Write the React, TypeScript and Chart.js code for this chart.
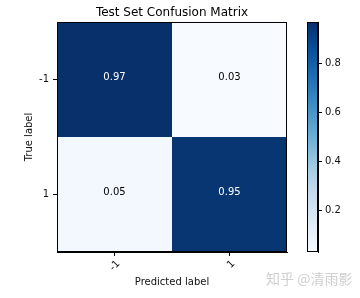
import React, { useEffect, useRef } from 'react';
import { Chart, registerables } from 'chart.js';

Chart.register(...registerables);

const TITLE = 'Test Set Confusion Matrix';
const X_TITLE = 'Predicted label';
const Y_TITLE = 'True label';
const CLASSES = ['-1', '1'];
const ROW_NEG = [0.97, 0.03];
const ROW_POS = [0.05, 0.95];
const MATRIX = [ROW_NEG, ROW_POS];
const CB_TICKS = [0.2, 0.4, 0.6, 0.8];
const CB_MIN = 0.03;
const CB_MAX = 0.97;
const WATERMARK = '知乎 @清雨影';

const BLUES = ['#f7fbff', '#deebf7', '#c6dbef', '#9ecae1', '#6baed6', '#4292c6', '#2171b5', '#08519c', '#08306b'];
const FONT = 'DejaVu Sans';
const TEXT = '#111';

function hexToRgb(h: string) {
  return [parseInt(h.slice(1, 3), 16), parseInt(h.slice(3, 5), 16), parseInt(h.slice(5, 7), 16)];
}
function blues(t: number) {
  const c = Math.max(0, Math.min(1, t));
  const p = c * (BLUES.length - 1);
  const i = Math.min(BLUES.length - 2, Math.floor(p));
  const f = p - i;
  const a = hexToRgb(BLUES[i]);
  const b = hexToRgb(BLUES[i + 1]);
  const m = a.map((v, k) => Math.round(v + (b[k] - v) * f));
  return `rgb(${m[0]},${m[1]},${m[2]})`;
}

const cellPlugin = {
  id: 'cells',
  beforeDatasetsDraw(chart: any) {
    const { ctx, chartArea } = chart;
    const xs = chart.scales.x;
    const ys = chart.scales.y;
    const thresh = Math.max(...MATRIX.flat()) / 2;
    ctx.save();
    MATRIX.forEach((row, i) => {
      row.forEach((v, j) => {
        const x0 = xs.getPixelForValue(j - 0.5);
        const x1 = xs.getPixelForValue(j + 0.5);
        const y0 = ys.getPixelForValue(i - 0.5);
        const y1 = ys.getPixelForValue(i + 0.5);
        ctx.fillStyle = blues((v - CB_MIN) / (CB_MAX - CB_MIN));
        ctx.fillRect(Math.min(x0, x1), Math.min(y0, y1), Math.abs(x1 - x0), Math.abs(y1 - y0));
        ctx.fillStyle = v > thresh ? '#ffffff' : '#000000';
        ctx.font = `10px "${FONT}"`;
        ctx.textAlign = 'center';
        ctx.textBaseline = 'middle';
        ctx.fillText(v.toFixed(2), xs.getPixelForValue(j), ys.getPixelForValue(i) - 2);
      });
    });
    ctx.strokeStyle = '#000';
    ctx.lineWidth = 1;
    ctx.strokeRect(chartArea.left + 0.5, chartArea.top + 0.5, chartArea.right - chartArea.left - 1, chartArea.bottom - chartArea.top - 1);
    ctx.restore();
  },
};

const gradientPlugin = {
  id: 'cbgrad',
  beforeDatasetsDraw(chart: any) {
    const { ctx, chartArea } = chart;
    const ys = chart.scales.y;
    const g = ctx.createLinearGradient(0, ys.getPixelForValue(CB_MIN), 0, ys.getPixelForValue(CB_MAX));
    BLUES.forEach((c, k) => g.addColorStop(k / (BLUES.length - 1), c));
    ctx.save();
    ctx.fillStyle = g;
    ctx.fillRect(chartArea.left, chartArea.top, chartArea.right - chartArea.left, chartArea.bottom - chartArea.top);
    ctx.strokeStyle = '#000';
    ctx.lineWidth = 1;
    ctx.strokeRect(chartArea.left + 0.5, chartArea.top + 0.5, chartArea.right - chartArea.left - 1, chartArea.bottom - chartArea.top - 1);
    ctx.restore();
  },
};

export default function App() {
  const mainRef = useRef<HTMLCanvasElement>(null);
  const cbRef = useRef<HTMLCanvasElement>(null);

  useEffect(() => {
    const font = { family: FONT, size: 10 };
    const main = new Chart(mainRef.current as HTMLCanvasElement, {
      type: 'scatter',
      data: { datasets: [{ data: [], pointRadius: 0 }] },
      options: {
        responsive: false,
        animation: false,
        layout: { padding: { top: 0, right: 73, bottom: 0, left: 0 } },
        plugins: {
          legend: { display: false },
          tooltip: { enabled: false },
          title: {
            display: true,
            fullSize: false,
            text: TITLE,
            color: '#000',
            font: { family: FONT, size: 12, weight: 'normal' },
            padding: { top: 6, bottom: 1.6 },
          },
        },
        scales: {
          x: {
            type: 'linear',
            min: -0.5,
            max: 1.5,
            position: 'bottom',
            afterBuildTicks: (s: any) => {
              s.ticks = CLASSES.map((_, i) => ({ value: i }));
            },
            afterFit: (s: any) => {
              s.height = 46;
            },
            ticks: {
              callback: (v: any) => CLASSES[v],
              minRotation: 45,
              maxRotation: 45,
              autoSkip: false,
              color: TEXT,
              font,
              padding: 2,
              labelOffset: 4,
            },
            grid: { drawOnChartArea: false, drawTicks: true, tickLength: 4, tickColor: '#000', color: '#000' },
            border: { display: true, color: '#000' },
            title: { display: true, text: X_TITLE, color: TEXT, font, padding: { top: 0, bottom: 10 } },
          },
          y: {
            type: 'linear',
            min: -0.5,
            max: 1.5,
            reverse: true,
            position: 'left',
            afterBuildTicks: (s: any) => {
              s.ticks = CLASSES.map((_, i) => ({ value: i }));
            },
            afterFit: (s: any) => {
              s.width = 57;
            },
            ticks: {
              callback: (v: any) => CLASSES[v],
              autoSkip: false,
              color: TEXT,
              font,
              padding: 4,
            },
            grid: { drawOnChartArea: false, drawTicks: true, tickLength: 4, tickColor: '#000', color: '#000' },
            border: { display: true, color: '#000' },
            title: { display: true, text: Y_TITLE, color: TEXT, font, padding: { top: 23, bottom: 0 } },
          },
        },
      } as any,
      plugins: [cellPlugin],
    });

    const cb = new Chart(cbRef.current as HTMLCanvasElement, {
      type: 'scatter',
      data: { datasets: [{ data: [], pointRadius: 0 }] },
      options: {
        responsive: false,
        animation: false,
        layout: { padding: { left: 17, top: 22, bottom: 46, right: 0 } },
        plugins: { legend: { display: false }, tooltip: { enabled: false } },
        scales: {
          x: { display: false, type: 'linear', min: 0, max: 1 },
          y: {
            type: 'linear',
            position: 'right',
            min: CB_MIN,
            max: CB_MAX,
            afterBuildTicks: (s: any) => {
              s.ticks = CB_TICKS.map((v) => ({ value: v }));
            },
            afterFit: (s: any) => {
              s.width = 42;
            },
            ticks: {
              callback: (v: any) => Number(v).toFixed(1),
              color: TEXT,
              font,
              padding: 3,
            },
            grid: { drawOnChartArea: false, drawTicks: true, tickLength: 4, tickColor: '#000', color: '#000' },
            border: { display: true, color: '#000' },
          },
        },
      } as any,
      plugins: [gradientPlugin],
    });

    return () => {
      main.destroy();
      cb.destroy();
    };
  }, []);

  return (
    <div style={{ position: 'fixed', left: 0, top: 0, width: 360, height: 298, background: '#fff', overflow: 'hidden' }}>
      <canvas ref={mainRef} width={360} height={298} style={{ position: 'absolute', left: 0, top: 0 }} />
      <canvas ref={cbRef} width={70} height={298} style={{ position: 'absolute', left: 290, top: 0 }} />
      <div
        style={{
          position: 'absolute',
          left: 266,
          top: 269,
          fontFamily: '"Noto Sans CJK SC", sans-serif',
          fontSize: 14,
          lineHeight: '18px',
          color: '#cfcfcf',
          whiteSpace: 'nowrap',
        }}
      >
        {WATERMARK}
      </div>
    </div>
  );
}
